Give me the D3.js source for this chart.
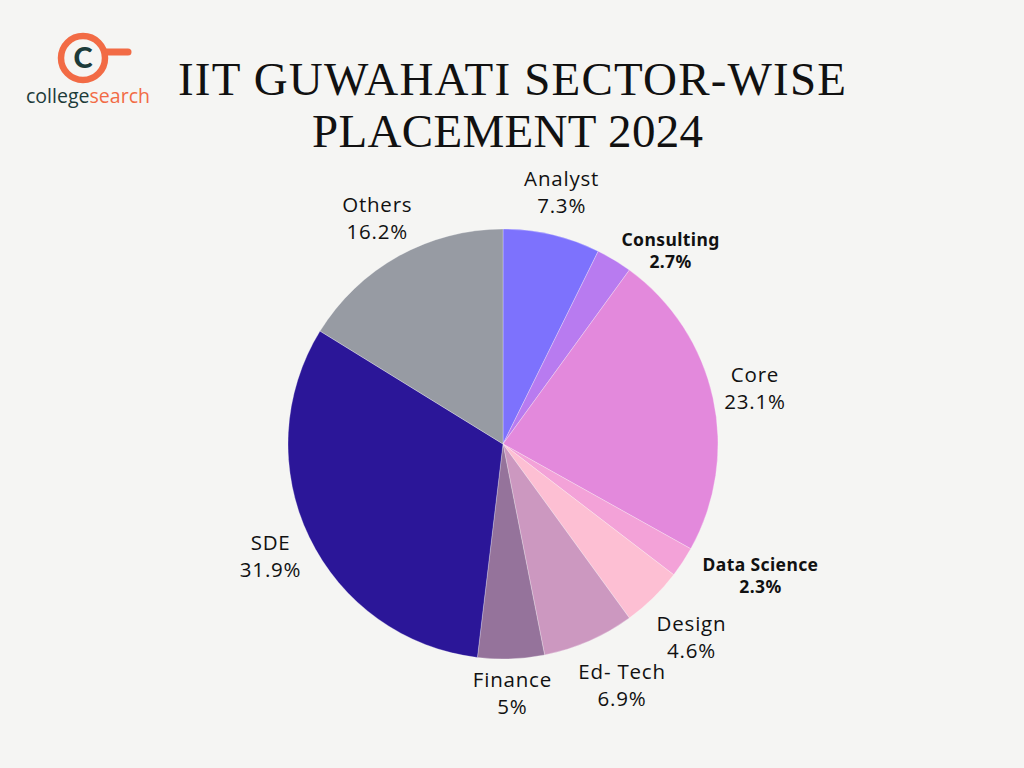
<!DOCTYPE html>
<html><head><meta charset="utf-8">
<script src="https://cdn.jsdelivr.net/npm/d3@7"></script>
<style>
html,body{margin:0;padding:0;background:#f5f5f3;}
svg{display:block;}
</style></head>
<body>
<svg id="chart" width="1024" height="768"></svg>
<script>
const categories = ["Analyst","Consulting","Core","Data Science","Design","Ed- Tech","Finance","SDE","Others"];
const values = [7.3, 2.7, 23.1, 2.3, 4.6, 6.9, 5, 31.9, 16.2];
const valueLabels = ["7.3%","2.7%","23.1%","2.3%","4.6%","6.9%","5%","31.9%","16.2%"];
const colors = ["#7d72fd","#b87bf0","#e389dc","#f3a2d8","#fdbfd3","#cc98c0","#95739b","#2b1698","#979ba3"];
const boldLabels = ["Consulting","Data Science"];

const svg = d3.select("#chart");
svg.append("rect").attr("width",1024).attr("height",768).attr("fill","#f5f5f3");

// Logo
const logo = svg.append("g");
logo.append("line").attr("x1",104).attr("y1",52).attr("x2",128).attr("y2",52)
  .attr("stroke","#f26b45").attr("stroke-width",7).attr("stroke-linecap","round");
logo.append("circle").attr("cx",83).attr("cy",58).attr("r",22)
  .attr("fill","#f5f5f3").attr("stroke","#f26b45").attr("stroke-width",6.5);
logo.append("text").attr("x",83).attr("y",68).attr("text-anchor","middle")
  .attr("font-family","Lato, 'Open Sans', sans-serif").attr("font-weight",900)
  .attr("font-size",29).attr("fill","#1d3b39").text("C");
const lt = logo.append("text").attr("x",26).attr("y",103).attr("textLength",124)
  .attr("lengthAdjust","spacingAndGlyphs")
  .attr("font-family","'Open Sans', Lato, sans-serif").attr("font-weight",500).attr("font-size",20);
lt.append("tspan").attr("fill","#1d3b39").text("college");
lt.append("tspan").attr("fill","#f26b45").text("search");

// Title
const title = svg.append("g").attr("font-family","'Liberation Serif','DejaVu Serif',serif")
  .attr("fill","#111").attr("font-size",47);
title.append("text").attr("x",178).attr("y",95).attr("textLength",668)
  .attr("lengthAdjust","spacing").text("IIT GUWAHATI SECTOR-WISE");
title.append("text").attr("x",312).attr("y",147).attr("textLength",391)
  .attr("lengthAdjust","spacing").text("PLACEMENT 2024");

// Pie
const cx = 503, cy = 444, R = 215, labelR = 258;
const pie = d3.pie().sort(null).value(d => d.v);
const data = categories.map((c,i) => ({c, v: values[i], lab: valueLabels[i], col: colors[i]}));
const arcs = pie(data);
const arc = d3.arc().innerRadius(0).outerRadius(R);
const g = svg.append("g").attr("transform",`translate(${cx},${cy})`);
g.selectAll("path").data(arcs).join("path")
  .attr("d", arc).attr("fill", d => d.data.col)
  .attr("stroke","#ffffff").attr("stroke-opacity",0.35).attr("stroke-width",0.8);

// Labels (angle nudge in radians, radius nudge in px)
const nudge = {"Consulting":[0.17, -2], "Data Science":[-0.11, 31], "Design":[0,12], "Ed- Tech":[-0.047,11], "Finance":[0,-8]};
const lab = g.selectAll("g.lab").data(arcs).join("g").attr("class","lab")
  .attr("transform", d => {
    const n = nudge[d.data.c] || [0,0];
    const a = (d.startAngle + d.endAngle)/2 + n[0];
    const r = labelR + n[1];
    return `translate(${Math.sin(a)*r},${-Math.cos(a)*r})`;
  });
lab.each(function(d){
  const bold = boldLabels.includes(d.data.c);
  const t = d3.select(this).append("text").attr("text-anchor","middle")
    .attr("fill","#111")
    .attr("font-family", bold ? "'Noto Sans','Open Sans',sans-serif" : "'Open Sans','Noto Sans',sans-serif")
    .attr("font-weight", bold ? 700 : 400)
    .attr("font-size", bold ? 17.5 : 20.5)
    .attr("letter-spacing", bold ? 0.4 : 0.8);
  const dy = bold ? 22 : 27;
  t.append("tspan").attr("x",0).attr("y",-dy/2 + 7).text(d.data.c);
  t.append("tspan").attr("x",0).attr("y",dy/2 + 7).text(d.data.lab);
});
</script>
</body></html>
